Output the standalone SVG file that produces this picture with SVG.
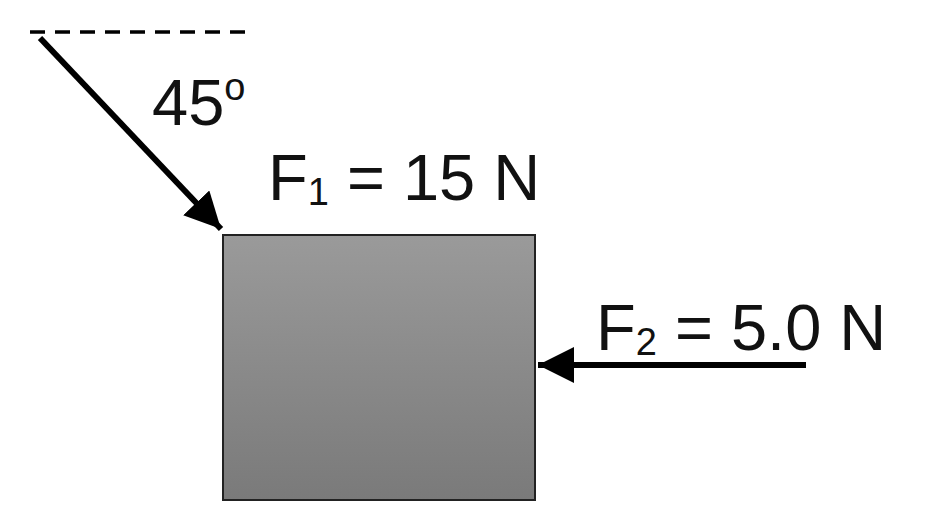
<svg xmlns="http://www.w3.org/2000/svg" width="932" height="532" viewBox="0 0 932 532">
<style>
.lbl{font-family:"Liberation Sans",Arial,sans-serif;font-size:65px;fill:#111}
.force{stroke:#000;stroke-width:6;fill:none}
</style>
<defs>
<linearGradient id="g" x1="0" y1="0" x2="0" y2="1">
<stop offset="0" stop-color="#9a9a9a"/>
<stop offset="1" stop-color="#7a7a7a"/>
</linearGradient>
<marker id="ah" viewBox="0 0 10 10" refX="10" refY="5" markerWidth="6" markerHeight="6" markerUnits="strokeWidth" orient="auto">
<path d="M0,0 L10,5 L0,10 Z" fill="#000"/>
</marker>
</defs>
<rect width="932" height="532" fill="#fff"/>
<line x1="30" y1="32" x2="252" y2="32" stroke="#000" stroke-width="3.5" stroke-dasharray="15,10"/>
<g id="block">
<rect x="223" y="235" width="312" height="265" fill="url(#g)" stroke="#222" stroke-width="2"/>
</g>
<g id="connectors">
<line class="force" x1="40" y1="38" x2="221" y2="229" marker-end="url(#ah)"/>
<line class="force" x1="806" y1="365" x2="538" y2="365" marker-end="url(#ah)"/>
</g>
<g id="angle-label">
<text class="lbl" x="152" y="125">45<tspan font-size="38" dy="-25">o</tspan></text>
</g>
<g id="f1-label">
<text class="lbl" x="268" y="200">F<tspan font-size="38" dy="5">1</tspan><tspan dy="-5"> = 15 N</tspan></text>
</g>
<g id="f2-label">
<text class="lbl" x="596" y="350">F<tspan font-size="38" dy="5">2</tspan><tspan dy="-5"> = 5.0 N</tspan></text>
</g>
</svg>
